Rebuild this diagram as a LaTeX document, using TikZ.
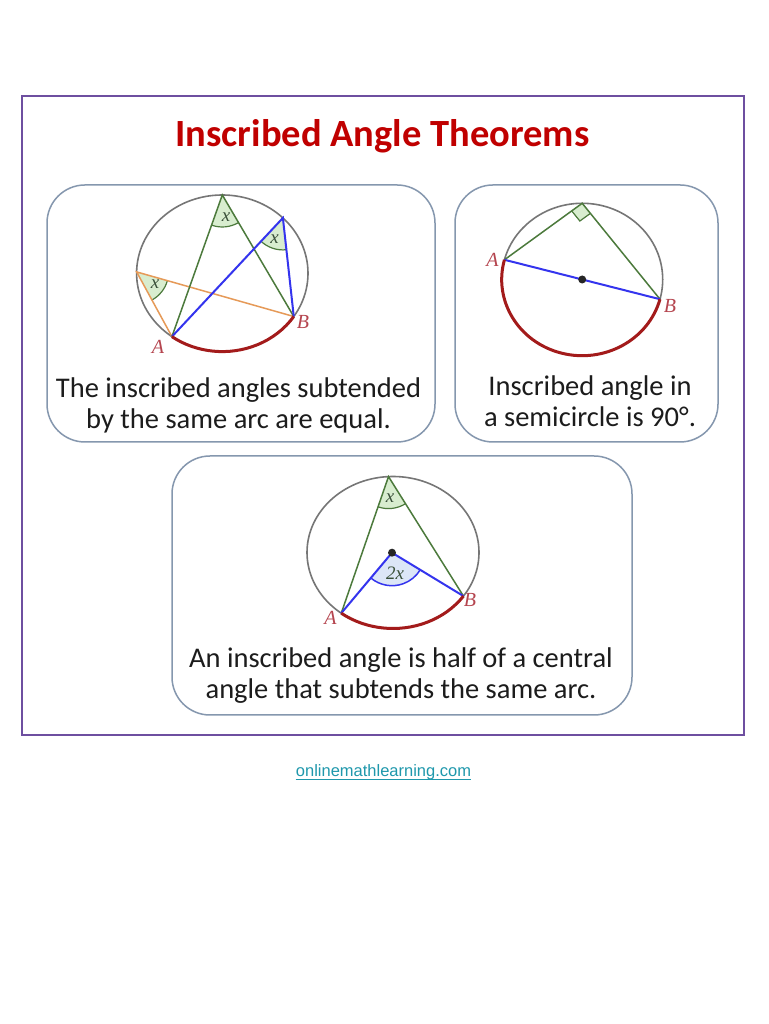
\documentclass[tikz,border=0pt]{standalone}
\usepackage{fontspec}
\setmainfont{Carlito}
\newfontfamily\lserif{Liberation Serif}
\newfontfamily\lsans{Liberation Sans}
\usetikzlibrary{calc,angles}

\definecolor{framepurple}{HTML}{6E4FA0}
\definecolor{panelblue}{HTML}{8597AE}
\definecolor{titlered}{HTML}{C00000}
\definecolor{circgray}{HTML}{767676}
\definecolor{lgreen}{HTML}{4C7A3C}
\definecolor{wgreen}{HTML}{D8EDCF}
\definecolor{lblue}{HTML}{3434EE}
\definecolor{wblue}{HTML}{DCE6F7}
\definecolor{lorange}{HTML}{E69A58}
\definecolor{arcred}{HTML}{A31B1B}
\definecolor{ptlabel}{HTML}{B5454F}
\definecolor{xlabel}{HTML}{3A503A}
\definecolor{linkteal}{HTML}{1F98AC}
\definecolor{textblack}{HTML}{1C1C1C}

\begin{document}
\begin{tikzpicture}[x=1pt,y=1pt,
 panel/.style={draw=panelblue,line width=1.5pt,rounded corners=38pt},
 circ/.style={draw=circgray,line width=1.6pt},
 gline/.style={draw=lgreen,line width=1.5pt},
 bline/.style={draw=lblue,line width=2pt},
 oline/.style={draw=lorange,line width=1.5pt},
 redarc/.style={draw=arcred,line width=3pt},
 gwedge/.style={draw=lgreen,fill=wgreen,line width=1.2pt,angle radius=32pt},
 bwedge/.style={draw=lblue,fill=wblue,line width=1.5pt,angle radius=33pt},
 ptlab/.style={text=ptlabel,font=\lserif\itshape\fontsize{20}{20}\selectfont,inner sep=0pt},
 xlab/.style={text=xlabel,font=\lserif\itshape\fontsize{19}{19}\selectfont,inner sep=0pt},
 captext/.style={text=textblack,align=center,font=\fontsize{28.5}{31}\selectfont,inner sep=0pt},
 dot/.style={circle,fill=black!85,inner sep=0pt,minimum size=8pt},
]
\useasboundingbox (0,0) rectangle (768,1024);
\fill[white] (0,0) rectangle (768,1024);

% outer frame
\draw[framepurple,line width=1.5pt] (22,289) rectangle (744,928);

% title
\node[anchor=base,text=titlered,font=\bfseries\fontsize{38.5}{44}\selectfont,inner sep=0pt] (title) at (382.5,877) {Inscribed Angle Theorems};

% panels
\draw[panel] (47,582) rectangle (435,839);
\draw[panel] (455,582) rectangle (718,839);
\draw[panel] (172,309) rectangle (632,568);

% ---------- circle 1 ----------
\def\rxa{85.7}\def\rya{78.3}
\coordinate (C1) at (222.3,750.7);
\coordinate (T1) at ($(C1)+({\rxa*cos(90)},{\rya*sin(90)})$);
\coordinate (A1) at ($(C1)+({\rxa*cos(234)},{\rya*sin(234)})$);
\coordinate (B1) at ($(C1)+({\rxa*cos(326.5)},{\rya*sin(326.5)})$);
\coordinate (U1) at ($(C1)+({\rxa*cos(45)},{\rya*sin(45)})$);
\coordinate (O1) at ($(C1)+({\rxa*cos(179)},{\rya*sin(179)})$);
\draw[circ] (C1) ellipse [x radius=\rxa, y radius=\rya];
\pic[gwedge] {angle=A1--T1--B1};
\pic[gwedge] {angle=A1--U1--B1};
\pic[gwedge] {angle=A1--O1--B1};
\draw[oline] (A1) -- (O1) -- (B1);
\draw[gline] (A1) -- (T1) -- (B1);
\draw[bline] (A1) -- (U1) -- (B1);
\draw[redarc] (A1) arc [start angle=234, end angle=326.5, x radius=\rxa, y radius=\rya];
\node[xlab] (x1a) at (226,807) {x};
\node[xlab] (x1b) at (274.5,785) {x};
\node[xlab] (x1c) at (155,740) {x};
\node[ptlab] (lA1) at (158,677.3) {A};
\node[ptlab] (lB1) at (303,702.3) {B};

% ---------- circle 2 ----------
\def\rxb{80.5}\def\ryb{76.2}
\coordinate (C2) at (582.2,744.5);
\coordinate (A2) at ($(C2)+({\rxb*cos(165)},{\ryb*sin(165)})$);
\coordinate (B2) at ($(C2)+({\rxb*cos(345)},{\ryb*sin(345)})$);
\coordinate (R2) at ($(C2)+({\rxb*cos(90)},{\ryb*sin(90)})$);
\draw[circ] (C2) ellipse [x radius=\rxb, y radius=\ryb];
\coordinate (Ra) at ($(R2)!13pt!(A2)$);
\coordinate (Rb) at ($(R2)!13pt!(B2)$);
\coordinate (Rc) at ($(Ra)+(Rb)-(R2)$);
\fill[wgreen] (R2) -- (Ra) -- (Rc) -- (Rb) -- cycle;
\draw[lgreen,line width=1.2pt] (Ra) -- (Rc) -- (Rb);
\draw[gline] (A2) -- (R2) -- (B2);
\draw[bline] (A2) -- (B2);
\draw[redarc] (A2) arc [start angle=165, end angle=345, x radius=\rxb, y radius=\ryb];
\node[dot] (O2) at (C2) {};
\node[ptlab] (lA2) at (492.5,764) {A};
\node[ptlab] (lB2) at (670,718) {B};

% ---------- circle 3 ----------
\def\rxc{86}\def\ryc{76}
\coordinate (C3) at (393,471.5);
\coordinate (O3) at (392,471.3);
\coordinate (T3) at ($(C3)+({\rxc*cos(93)},{\ryc*sin(93)})$);
\coordinate (A3) at ($(C3)+({\rxc*cos(233)},{\ryc*sin(233)})$);
\coordinate (B3) at ($(C3)+({\rxc*cos(325)},{\ryc*sin(325)})$);
\draw[circ] (C3) ellipse [x radius=\rxc, y radius=\ryc];
\pic[gwedge] {angle=A3--T3--B3};
\pic[bwedge] {angle=A3--O3--B3};
\draw[gline] (A3) -- (T3) -- (B3);
\draw[bline] (A3) -- (O3) -- (B3);
\draw[redarc] (A3) arc [start angle=233, end angle=325, x radius=\rxc, y radius=\ryc];
\node[dot] (dot3) at (O3) {};
\node[xlab] (x3a) at (390,526) {x};
\node[xlab] (x3b) at (395,451) {2x};
\node[ptlab] (lA3) at (330.5,405.7) {A};
\node[ptlab] (lB3) at (470,424) {B};

% ---------- captions ----------
\node[captext] (cap1) at (238.5,619) {The inscribed angles subtended\\by the same arc are equal.};
\node[captext] (cap2) at (590,623) {Inscribed angle in\\a semicircle is 90°.};
\node[captext] (cap3) at (401,348) {An inscribed angle is half of a central\\angle that subtends the same arc.};

% ---------- link ----------
\node[anchor=base,text=linkteal,font=\lsans\fontsize{16.5}{18}\selectfont,inner sep=0pt] (link) at (383.5,247) {onlinemathlearning.com};
\draw[linkteal,line width=0.9pt] ([yshift=-2.5pt]link.base west) -- ([yshift=-2.5pt]link.base east);
\end{tikzpicture}
\end{document}
